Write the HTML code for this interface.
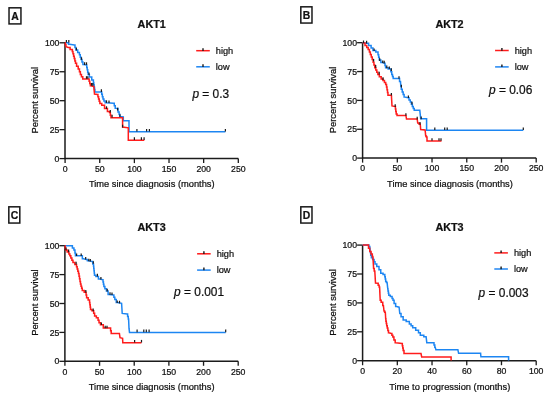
<!DOCTYPE html>
<html><head><meta charset="utf-8"><style>
html,body{margin:0;padding:0;background:#fff;width:550px;height:396px;overflow:hidden}
svg{display:block;will-change:transform}
text{font-family:"Liberation Sans",sans-serif;fill:#121212;stroke:#121212;stroke-width:0.24px}
</style></head><body>
<svg width="550" height="396" viewBox="0 0 550 396">
<defs><filter id="bl" x="0" y="0" width="550" height="396" filterUnits="userSpaceOnUse"><feGaussianBlur stdDeviation="0.35"/></filter></defs>
<rect width="550" height="396" fill="#fff"/>
<g filter="url(#bl)">
<rect x="9.02" y="7.82" width="11.93" height="16.1" fill="none" stroke="#1a1a1a" stroke-width="1.5"/>
<text x="15.08" y="19.57" font-size="10.4" font-weight="bold" text-anchor="middle">A</text>
<text x="151.7" y="28.3" font-size="10.8" font-weight="bold" text-anchor="middle">AKT1</text>
<path d="M65,42.8 L65,158.6 L238.3,158.6" fill="none" stroke="#1a1a1a" stroke-width="1.5"/>
<line x1="59.5" y1="158.6" x2="65" y2="158.6" stroke="#1a1a1a" stroke-width="1.3"/>
<text x="59.4" y="161.7" font-size="8.7" text-anchor="end">0</text>
<line x1="59.5" y1="129.65" x2="65" y2="129.65" stroke="#1a1a1a" stroke-width="1.3"/>
<text x="59.4" y="132.75" font-size="8.7" text-anchor="end">25</text>
<line x1="59.5" y1="100.7" x2="65" y2="100.7" stroke="#1a1a1a" stroke-width="1.3"/>
<text x="59.4" y="103.8" font-size="8.7" text-anchor="end">50</text>
<line x1="59.5" y1="71.75" x2="65" y2="71.75" stroke="#1a1a1a" stroke-width="1.3"/>
<text x="59.4" y="74.85" font-size="8.7" text-anchor="end">75</text>
<line x1="59.5" y1="42.8" x2="65" y2="42.8" stroke="#1a1a1a" stroke-width="1.3"/>
<text x="59.4" y="45.9" font-size="8.7" text-anchor="end">100</text>
<line x1="65.1" y1="158.6" x2="65.1" y2="163.1" stroke="#1a1a1a" stroke-width="1.3"/>
<text x="65.1" y="171.9" font-size="8.7" text-anchor="middle">0</text>
<line x1="99.74" y1="158.6" x2="99.74" y2="163.1" stroke="#1a1a1a" stroke-width="1.3"/>
<text x="99.74" y="171.9" font-size="8.7" text-anchor="middle">50</text>
<line x1="134.38" y1="158.6" x2="134.38" y2="163.1" stroke="#1a1a1a" stroke-width="1.3"/>
<text x="134.38" y="171.9" font-size="8.7" text-anchor="middle">100</text>
<line x1="169.02" y1="158.6" x2="169.02" y2="163.1" stroke="#1a1a1a" stroke-width="1.3"/>
<text x="169.02" y="171.9" font-size="8.7" text-anchor="middle">150</text>
<line x1="203.66" y1="158.6" x2="203.66" y2="163.1" stroke="#1a1a1a" stroke-width="1.3"/>
<text x="203.66" y="171.9" font-size="8.7" text-anchor="middle">200</text>
<line x1="238.3" y1="158.6" x2="238.3" y2="163.1" stroke="#1a1a1a" stroke-width="1.3"/>
<text x="238.3" y="171.9" font-size="8.7" text-anchor="middle">250</text>
<text x="151.75" y="187.1" font-size="9.3" text-anchor="middle">Time since diagnosis (months)</text>
<text transform="translate(38.1,100.2) rotate(-90)" x="0" y="0" font-size="9.35" text-anchor="middle">Percent survival</text>
<path d="M65.00,42.80 L67.60,42.80 L68.55,42.80 L68.55,44.30 L69.50,44.30 L74.50,45.00 L74.97,45.00 L74.97,47.50 L75.93,47.50 L75.93,50.00 L76.40,50.00 L77.70,50.00 L77.70,52.50 L79.00,52.50 L79.42,52.50 L79.42,54.83 L80.25,54.83 L80.25,57.17 L81.08,57.17 L81.08,59.50 L81.50,59.50 L81.97,59.50 L81.97,62.00 L82.93,62.00 L82.93,64.50 L83.40,64.50 L86.50,65.10 L86.74,65.10 L86.74,67.47 L87.21,67.47 L87.21,69.85 L87.69,69.85 L87.69,72.22 L88.16,72.22 L88.16,74.60 L88.40,74.60 L89.35,74.60 L89.35,77.00 L90.30,77.00 L91.75,77.00 L91.75,80.00 L93.20,80.00 L93.39,80.00 L93.39,82.40 L93.77,82.40 L93.77,84.80 L94.15,84.80 L94.15,87.20 L94.53,87.20 L94.53,89.60 L94.91,89.60 L94.91,92.00 L95.10,92.00 L101.40,92.00 L101.72,92.00 L101.72,94.33 L102.35,94.33 L102.35,96.67 L102.98,96.67 L102.98,99.00 L103.30,99.00 L103.92,99.00 L103.92,100.90 L105.17,100.90 L105.17,102.80 L105.80,102.80 L113.80,103.20 L114.28,103.20 L114.28,105.70 L115.22,105.70 L115.22,108.20 L115.70,108.20 L117.20,108.50 L118.00,108.50 L118.00,112.00 L118.80,112.00 L119.10,112.00 L119.10,114.20 L119.70,114.20 L119.70,116.40 L120.00,116.40 L123.30,117.00 L123.30,120.80 L129.00,120.80 L129.00,131.80 L225.40,131.80" fill="none" stroke="#1f86f2" stroke-width="1.5" stroke-linejoin="miter"/>
<path d="M65.00,42.80 L65.33,42.80 L65.33,44.80 L65.97,44.80 L65.97,46.80 L66.30,46.80 L68.20,47.50 L70.10,47.50 L70.10,49.40 L72.00,49.40 L72.33,49.40 L72.33,51.60 L72.97,51.60 L72.97,53.80 L73.30,53.80 L73.61,53.80 L73.61,56.17 L74.24,56.17 L74.24,58.55 L74.86,58.55 L74.86,60.92 L75.49,60.92 L75.49,63.30 L75.80,63.30 L76.60,63.30 L76.60,66.15 L78.20,66.15 L78.20,69.00 L79.00,69.00 L79.45,69.00 L79.45,71.80 L80.35,71.80 L80.35,74.60 L80.80,74.60 L81.45,74.60 L81.45,76.80 L82.75,76.80 L82.75,79.00 L83.40,79.00 L88.80,79.00 L89.12,79.00 L89.12,81.23 L89.75,81.23 L89.75,83.47 L90.38,83.47 L90.38,85.70 L90.70,85.70 L93.80,86.40 L94.50,94.00 L97.60,94.60 L97.92,94.60 L97.92,96.80 L98.58,96.80 L98.58,99.00 L99.22,99.00 L99.22,101.20 L99.88,101.20 L99.88,103.40 L100.20,103.40 L101.75,103.40 L101.75,105.30 L103.30,105.30 L104.55,105.30 L104.55,108.50 L105.80,108.50 L107.40,108.50 L107.40,111.60 L109.00,111.60 L109.50,111.60 L109.50,112.60 L110.00,112.60 L110.33,112.60 L110.33,115.15 L110.97,115.15 L110.97,117.70 L111.30,117.70 L122.60,117.70 L122.60,127.10 L128.30,127.80 L128.30,140.20 L144.30,140.20" fill="none" stroke="#ff1a1a" stroke-width="1.5" stroke-linejoin="miter"/>
<line x1="134.4" y1="137.3" x2="134.4" y2="139.9" stroke="#1a1a1a" stroke-width="1.2"/>
<line x1="141.4" y1="137.3" x2="141.4" y2="139.9" stroke="#1a1a1a" stroke-width="1.2"/>
<line x1="144.1" y1="137.3" x2="144.1" y2="139.9" stroke="#1a1a1a" stroke-width="1.2"/>
<line x1="86.5" y1="76.2" x2="86.5" y2="78.8" stroke="#1a1a1a" stroke-width="1.2"/>
<line x1="87.8" y1="76.2" x2="87.8" y2="78.8" stroke="#1a1a1a" stroke-width="1.2"/>
<line x1="91.6" y1="83.1" x2="91.6" y2="85.7" stroke="#1a1a1a" stroke-width="1.2"/>
<line x1="92.8" y1="83.1" x2="92.8" y2="85.7" stroke="#1a1a1a" stroke-width="1.2"/>
<line x1="106.5" y1="106.3" x2="106.5" y2="108.9" stroke="#1a1a1a" stroke-width="1.2"/>
<line x1="110.3" y1="110" x2="110.3" y2="112.6" stroke="#1a1a1a" stroke-width="1.2"/>
<line x1="112.1" y1="114.8" x2="112.1" y2="117.4" stroke="#1a1a1a" stroke-width="1.2"/>
<line x1="122.6" y1="124.8" x2="122.6" y2="127.4" stroke="#1a1a1a" stroke-width="1.2"/>
<line x1="136.9" y1="129" x2="136.9" y2="131.6" stroke="#1a1a1a" stroke-width="1.2"/>
<line x1="146.6" y1="129" x2="146.6" y2="131.6" stroke="#1a1a1a" stroke-width="1.2"/>
<line x1="149.4" y1="129" x2="149.4" y2="131.6" stroke="#1a1a1a" stroke-width="1.2"/>
<line x1="225.4" y1="129" x2="225.4" y2="131.6" stroke="#1a1a1a" stroke-width="1.2"/>
<line x1="66.4" y1="40" x2="66.4" y2="42.6" stroke="#1a1a1a" stroke-width="1.2"/>
<line x1="68.8" y1="40" x2="68.8" y2="42.6" stroke="#1a1a1a" stroke-width="1.2"/>
<line x1="76.4" y1="47.8" x2="76.4" y2="50.4" stroke="#1a1a1a" stroke-width="1.2"/>
<line x1="81.5" y1="57.3" x2="81.5" y2="59.9" stroke="#1a1a1a" stroke-width="1.2"/>
<line x1="84.6" y1="62.3" x2="84.6" y2="64.9" stroke="#1a1a1a" stroke-width="1.2"/>
<line x1="86.5" y1="62.3" x2="86.5" y2="64.9" stroke="#1a1a1a" stroke-width="1.2"/>
<line x1="89" y1="72.4" x2="89" y2="75" stroke="#1a1a1a" stroke-width="1.2"/>
<line x1="101.4" y1="89.3" x2="101.4" y2="91.9" stroke="#1a1a1a" stroke-width="1.2"/>
<line x1="106.5" y1="100.3" x2="106.5" y2="102.9" stroke="#1a1a1a" stroke-width="1.2"/>
<line x1="109" y1="100.5" x2="109" y2="103.1" stroke="#1a1a1a" stroke-width="1.2"/>
<line x1="117.6" y1="107.8" x2="117.6" y2="110.4" stroke="#1a1a1a" stroke-width="1.2"/>
<line x1="120" y1="114.2" x2="120" y2="116.8" stroke="#1a1a1a" stroke-width="1.2"/>
<line x1="196.2" y1="50.7" x2="209.8" y2="50.7" stroke="#ff1a1a" stroke-width="1.5"/>
<line x1="203" y1="48.2" x2="203" y2="50.9" stroke="#1a1a1a" stroke-width="1.4"/>
<text x="215.8" y="53.9" font-size="9.2">high</text>
<line x1="196.2" y1="66.8" x2="209.8" y2="66.8" stroke="#1f86f2" stroke-width="1.5"/>
<line x1="203" y1="64.3" x2="203" y2="67" stroke="#1a1a1a" stroke-width="1.4"/>
<text x="215.8" y="70" font-size="9.2">low</text>
<text x="192.4" y="97.9" font-size="11.9"><tspan font-style="italic">p</tspan> = 0.3</text>
<rect x="300.82" y="6.82" width="11.17" height="16.23" fill="none" stroke="#1a1a1a" stroke-width="1.5"/>
<text x="306.5" y="18.7" font-size="10.4" font-weight="bold" text-anchor="middle">B</text>
<text x="449.5" y="28.3" font-size="10.8" font-weight="bold" text-anchor="middle">AKT2</text>
<path d="M362.6,42.7 L362.6,158.1 L536.2,158.1" fill="none" stroke="#1a1a1a" stroke-width="1.5"/>
<line x1="357.1" y1="158.1" x2="362.6" y2="158.1" stroke="#1a1a1a" stroke-width="1.3"/>
<text x="357" y="161.2" font-size="8.7" text-anchor="end">0</text>
<line x1="357.1" y1="129.25" x2="362.6" y2="129.25" stroke="#1a1a1a" stroke-width="1.3"/>
<text x="357" y="132.35" font-size="8.7" text-anchor="end">25</text>
<line x1="357.1" y1="100.4" x2="362.6" y2="100.4" stroke="#1a1a1a" stroke-width="1.3"/>
<text x="357" y="103.5" font-size="8.7" text-anchor="end">50</text>
<line x1="357.1" y1="71.55" x2="362.6" y2="71.55" stroke="#1a1a1a" stroke-width="1.3"/>
<text x="357" y="74.65" font-size="8.7" text-anchor="end">75</text>
<line x1="357.1" y1="42.7" x2="362.6" y2="42.7" stroke="#1a1a1a" stroke-width="1.3"/>
<text x="357" y="45.8" font-size="8.7" text-anchor="end">100</text>
<line x1="362.6" y1="158.1" x2="362.6" y2="162.6" stroke="#1a1a1a" stroke-width="1.3"/>
<text x="362.6" y="171.4" font-size="8.7" text-anchor="middle">0</text>
<line x1="397.32" y1="158.1" x2="397.32" y2="162.6" stroke="#1a1a1a" stroke-width="1.3"/>
<text x="397.32" y="171.4" font-size="8.7" text-anchor="middle">50</text>
<line x1="432.04" y1="158.1" x2="432.04" y2="162.6" stroke="#1a1a1a" stroke-width="1.3"/>
<text x="432.04" y="171.4" font-size="8.7" text-anchor="middle">100</text>
<line x1="466.76" y1="158.1" x2="466.76" y2="162.6" stroke="#1a1a1a" stroke-width="1.3"/>
<text x="466.76" y="171.4" font-size="8.7" text-anchor="middle">150</text>
<line x1="501.48" y1="158.1" x2="501.48" y2="162.6" stroke="#1a1a1a" stroke-width="1.3"/>
<text x="501.48" y="171.4" font-size="8.7" text-anchor="middle">200</text>
<line x1="536.2" y1="158.1" x2="536.2" y2="162.6" stroke="#1a1a1a" stroke-width="1.3"/>
<text x="536.2" y="171.4" font-size="8.7" text-anchor="middle">250</text>
<text x="449.95" y="186.7" font-size="9.3" text-anchor="middle">Time since diagnosis (months)</text>
<text transform="translate(336,100) rotate(-90)" x="0" y="0" font-size="9.35" text-anchor="middle">Percent survival</text>
<path d="M362.60,42.70 L367.00,43.30 L368.60,43.30 L368.60,45.60 L370.20,45.60 L371.12,45.60 L371.12,48.10 L372.97,48.10 L372.97,50.60 L373.90,50.60 L375.80,50.60 L375.80,51.90 L377.70,51.90 L378.02,51.90 L378.02,54.63 L378.65,54.63 L378.65,57.37 L379.28,57.37 L379.28,60.10 L379.60,60.10 L380.85,60.10 L380.85,62.60 L382.10,62.60 L384.70,63.30 L385.00,63.30 L385.00,65.50 L385.60,65.50 L385.60,67.70 L385.90,67.70 L388.15,67.70 L388.15,68.90 L390.40,68.90 L390.85,68.90 L390.85,71.75 L391.75,71.75 L391.75,74.60 L392.20,74.60 L392.52,74.60 L392.52,76.50 L393.18,76.50 L393.18,78.40 L393.50,78.40 L398.60,78.40 L399.55,78.40 L399.55,81.60 L400.50,81.60 L400.80,86.30 L401.27,86.30 L401.27,89.15 L402.23,89.15 L402.23,92.00 L402.70,92.00 L403.18,92.00 L403.18,94.50 L404.12,94.50 L404.12,97.00 L404.60,97.00 L408.40,97.70 L409.02,97.70 L409.02,99.90 L410.27,99.90 L410.27,102.10 L410.90,102.10 L411.38,102.10 L411.38,104.30 L412.32,104.30 L412.32,106.50 L412.80,106.50 L413.27,106.50 L413.27,108.40 L414.23,108.40 L414.23,110.30 L414.70,110.30 L419.80,110.30 L420.70,118.80 L426.60,118.80 L426.60,130.20 L523.30,130.20" fill="none" stroke="#1f86f2" stroke-width="1.5" stroke-linejoin="miter"/>
<path d="M362.60,42.70 L364.00,43.00 L365.00,43.00 L365.00,45.50 L366.00,45.50 L366.73,45.50 L366.73,47.45 L368.17,47.45 L368.17,49.40 L368.90,49.40 L369.38,49.40 L369.38,51.92 L370.32,51.92 L370.32,54.45 L371.27,54.45 L371.27,56.98 L372.22,56.98 L372.22,59.50 L372.70,59.50 L373.12,59.50 L373.12,62.23 L373.95,62.23 L373.95,64.97 L374.78,64.97 L374.78,67.70 L375.20,67.70 L375.73,67.70 L375.73,70.00 L376.80,70.00 L376.80,72.30 L377.87,72.30 L377.87,74.60 L378.40,74.60 L379.32,74.60 L379.32,76.80 L381.18,76.80 L381.18,79.00 L382.10,79.00 L382.95,79.00 L382.95,80.60 L383.80,80.60 L384.43,80.60 L384.43,82.50 L385.68,82.50 L385.68,84.40 L386.30,84.40 L386.54,84.40 L386.54,87.10 L387.01,87.10 L387.01,89.80 L387.49,89.80 L387.49,92.50 L387.96,92.50 L387.96,95.20 L388.20,95.20 L391.40,95.20 L392.00,105.90 L395.20,106.50 L395.40,106.50 L395.40,109.03 L395.80,109.03 L395.80,111.57 L396.20,111.57 L396.20,114.10 L396.40,114.10 L397.05,114.10 L397.05,115.40 L397.70,115.40 L405.90,115.40 L406.50,119.00 L417.20,119.00 L417.70,123.00 L418.95,123.00 L418.95,124.00 L420.20,124.00 L420.70,129.60 L425.10,130.00 L425.70,135.90 L426.35,135.90 L426.35,137.10 L427.00,137.10 L427.00,141.00 L441.50,141.00" fill="none" stroke="#ff1a1a" stroke-width="1.5" stroke-linejoin="miter"/>
<line x1="432" y1="138.2" x2="432" y2="140.8" stroke="#1a1a1a" stroke-width="1.2"/>
<line x1="439" y1="138.2" x2="439" y2="140.8" stroke="#1a1a1a" stroke-width="1.2"/>
<line x1="441" y1="138.2" x2="441" y2="140.8" stroke="#1a1a1a" stroke-width="1.2"/>
<line x1="363.5" y1="40.5" x2="363.5" y2="43.1" stroke="#1a1a1a" stroke-width="1.2"/>
<line x1="373.6" y1="59" x2="373.6" y2="61.6" stroke="#1a1a1a" stroke-width="1.2"/>
<line x1="375.7" y1="65.1" x2="375.7" y2="67.7" stroke="#1a1a1a" stroke-width="1.2"/>
<line x1="379.2" y1="71.8" x2="379.2" y2="74.4" stroke="#1a1a1a" stroke-width="1.2"/>
<line x1="383" y1="77.3" x2="383" y2="79.9" stroke="#1a1a1a" stroke-width="1.2"/>
<line x1="391.4" y1="93" x2="391.4" y2="95.6" stroke="#1a1a1a" stroke-width="1.2"/>
<line x1="395.2" y1="104.3" x2="395.2" y2="106.9" stroke="#1a1a1a" stroke-width="1.2"/>
<line x1="405.9" y1="113.2" x2="405.9" y2="115.8" stroke="#1a1a1a" stroke-width="1.2"/>
<line x1="417.2" y1="116.8" x2="417.2" y2="119.4" stroke="#1a1a1a" stroke-width="1.2"/>
<line x1="420" y1="122.1" x2="420" y2="124.7" stroke="#1a1a1a" stroke-width="1.2"/>
<line x1="434.8" y1="127.4" x2="434.8" y2="130" stroke="#1a1a1a" stroke-width="1.2"/>
<line x1="444.7" y1="127.4" x2="444.7" y2="130" stroke="#1a1a1a" stroke-width="1.2"/>
<line x1="447.2" y1="127.4" x2="447.2" y2="130" stroke="#1a1a1a" stroke-width="1.2"/>
<line x1="523.3" y1="127.4" x2="523.3" y2="130" stroke="#1a1a1a" stroke-width="1.2"/>
<line x1="366.6" y1="40.8" x2="366.6" y2="43.4" stroke="#1a1a1a" stroke-width="1.2"/>
<line x1="374.1" y1="48.4" x2="374.1" y2="51" stroke="#1a1a1a" stroke-width="1.2"/>
<line x1="379.7" y1="58.3" x2="379.7" y2="60.9" stroke="#1a1a1a" stroke-width="1.2"/>
<line x1="382.7" y1="60.4" x2="382.7" y2="63" stroke="#1a1a1a" stroke-width="1.2"/>
<line x1="384.2" y1="60.8" x2="384.2" y2="63.4" stroke="#1a1a1a" stroke-width="1.2"/>
<line x1="386.8" y1="65.6" x2="386.8" y2="68.2" stroke="#1a1a1a" stroke-width="1.2"/>
<line x1="389.3" y1="66.4" x2="389.3" y2="69" stroke="#1a1a1a" stroke-width="1.2"/>
<line x1="391.3" y1="68.3" x2="391.3" y2="70.9" stroke="#1a1a1a" stroke-width="1.2"/>
<line x1="399" y1="76.2" x2="399" y2="78.8" stroke="#1a1a1a" stroke-width="1.2"/>
<line x1="401.4" y1="84.8" x2="401.4" y2="87.4" stroke="#1a1a1a" stroke-width="1.2"/>
<line x1="408.4" y1="95.5" x2="408.4" y2="98.1" stroke="#1a1a1a" stroke-width="1.2"/>
<line x1="412" y1="101.8" x2="412" y2="104.4" stroke="#1a1a1a" stroke-width="1.2"/>
<line x1="421.2" y1="116.6" x2="421.2" y2="119.2" stroke="#1a1a1a" stroke-width="1.2"/>
<line x1="495.1" y1="50.5" x2="508.7" y2="50.5" stroke="#ff1a1a" stroke-width="1.5"/>
<line x1="501.9" y1="48" x2="501.9" y2="50.7" stroke="#1a1a1a" stroke-width="1.4"/>
<text x="514.7" y="53.7" font-size="9.2">high</text>
<line x1="495.1" y1="66.9" x2="508.7" y2="66.9" stroke="#1f86f2" stroke-width="1.5"/>
<line x1="501.9" y1="64.4" x2="501.9" y2="67.1" stroke="#1a1a1a" stroke-width="1.4"/>
<text x="514.7" y="70.1" font-size="9.2">low</text>
<text x="489" y="93.6" font-size="11.9"><tspan font-style="italic">p</tspan> = 0.06</text>
<rect x="8.82" y="206.82" width="10.98" height="16.23" fill="none" stroke="#1a1a1a" stroke-width="1.5"/>
<text x="14.41" y="218.7" font-size="10.4" font-weight="bold" text-anchor="middle">C</text>
<text x="151.6" y="231" font-size="10.8" font-weight="bold" text-anchor="middle">AKT3</text>
<path d="M64.9,245.7 L64.9,361.3 L238.2,361.3" fill="none" stroke="#1a1a1a" stroke-width="1.5"/>
<line x1="59.4" y1="361.3" x2="64.9" y2="361.3" stroke="#1a1a1a" stroke-width="1.3"/>
<text x="59.3" y="364.4" font-size="8.7" text-anchor="end">0</text>
<line x1="59.4" y1="332.4" x2="64.9" y2="332.4" stroke="#1a1a1a" stroke-width="1.3"/>
<text x="59.3" y="335.5" font-size="8.7" text-anchor="end">25</text>
<line x1="59.4" y1="303.5" x2="64.9" y2="303.5" stroke="#1a1a1a" stroke-width="1.3"/>
<text x="59.3" y="306.6" font-size="8.7" text-anchor="end">50</text>
<line x1="59.4" y1="274.6" x2="64.9" y2="274.6" stroke="#1a1a1a" stroke-width="1.3"/>
<text x="59.3" y="277.7" font-size="8.7" text-anchor="end">75</text>
<line x1="59.4" y1="245.7" x2="64.9" y2="245.7" stroke="#1a1a1a" stroke-width="1.3"/>
<text x="59.3" y="248.8" font-size="8.7" text-anchor="end">100</text>
<line x1="64.9" y1="361.3" x2="64.9" y2="365.8" stroke="#1a1a1a" stroke-width="1.3"/>
<text x="64.9" y="374.6" font-size="8.7" text-anchor="middle">0</text>
<line x1="99.56" y1="361.3" x2="99.56" y2="365.8" stroke="#1a1a1a" stroke-width="1.3"/>
<text x="99.56" y="374.6" font-size="8.7" text-anchor="middle">50</text>
<line x1="134.22" y1="361.3" x2="134.22" y2="365.8" stroke="#1a1a1a" stroke-width="1.3"/>
<text x="134.22" y="374.6" font-size="8.7" text-anchor="middle">100</text>
<line x1="168.88" y1="361.3" x2="168.88" y2="365.8" stroke="#1a1a1a" stroke-width="1.3"/>
<text x="168.88" y="374.6" font-size="8.7" text-anchor="middle">150</text>
<line x1="203.54" y1="361.3" x2="203.54" y2="365.8" stroke="#1a1a1a" stroke-width="1.3"/>
<text x="203.54" y="374.6" font-size="8.7" text-anchor="middle">200</text>
<line x1="238.2" y1="361.3" x2="238.2" y2="365.8" stroke="#1a1a1a" stroke-width="1.3"/>
<text x="238.2" y="374.6" font-size="8.7" text-anchor="middle">250</text>
<text x="151.65" y="390.3" font-size="9.3" text-anchor="middle">Time since diagnosis (months)</text>
<text transform="translate(37.7,302.6) rotate(-90)" x="0" y="0" font-size="9.35" text-anchor="middle">Percent survival</text>
<path d="M64.90,245.70 L71.60,245.70 L72.38,245.70 L72.38,247.90 L73.92,247.90 L73.92,250.10 L74.70,250.10 L74.95,250.10 L74.95,252.90 L75.45,252.90 L75.45,255.70 L75.70,255.70 L81.40,255.70 L82.35,255.70 L82.35,258.80 L83.30,258.80 L86.40,259.50 L87.35,259.50 L87.35,260.70 L88.30,260.70 L92.10,261.40 L92.75,261.40 L92.75,263.90 L93.40,263.90 L93.52,263.90 L93.52,266.18 L93.76,266.18 L93.76,268.46 L94.00,268.46 L94.00,270.74 L94.24,270.74 L94.24,273.02 L94.48,273.02 L94.48,275.30 L94.60,275.30 L95.85,275.30 L95.85,276.50 L97.10,276.50 L98.40,276.50 L98.40,279.00 L99.70,279.00 L102.80,279.70 L103.02,279.70 L103.02,282.00 L103.45,282.00 L103.45,284.30 L103.88,284.30 L103.88,286.60 L104.10,286.60 L104.88,286.60 L104.88,288.80 L106.42,288.80 L106.42,291.00 L107.20,291.00 L108.10,291.00 L108.10,294.40 L109.00,294.40 L113.40,295.00 L113.88,295.00 L113.88,297.25 L114.83,297.25 L114.83,299.50 L115.30,299.50 L116.25,299.50 L116.25,302.60 L117.20,302.60 L121.60,303.30 L122.20,313.40 L127.30,314.00 L127.62,314.00 L127.62,316.50 L128.28,316.50 L128.28,319.00 L128.60,319.00 L129.00,328.20 L129.50,332.40 L225.70,332.40" fill="none" stroke="#1f86f2" stroke-width="1.5" stroke-linejoin="miter"/>
<path d="M64.90,245.70 L65.15,245.70 L65.15,247.90 L65.65,247.90 L65.65,250.10 L65.90,250.10 L67.15,250.10 L67.15,252.00 L68.40,252.00 L68.88,252.00 L68.88,253.90 L69.83,253.90 L69.83,255.80 L70.30,255.80 L70.83,255.80 L70.83,258.03 L71.90,258.03 L71.90,260.27 L72.97,260.27 L72.97,262.50 L73.50,262.50 L74.85,262.50 L74.85,264.50 L76.20,264.50 L76.53,264.50 L76.53,266.75 L77.17,266.75 L77.17,269.00 L77.83,269.00 L77.83,271.25 L78.47,271.25 L78.47,273.50 L78.80,273.50 L79.04,273.50 L79.04,276.15 L79.51,276.15 L79.51,278.80 L79.99,278.80 L79.99,281.45 L80.46,281.45 L80.46,284.10 L80.70,284.10 L81.02,284.10 L81.02,286.20 L81.65,286.20 L81.65,288.30 L82.28,288.30 L82.28,290.40 L82.60,290.40 L84.20,290.40 L84.20,292.30 L85.80,292.30 L86.08,292.30 L86.08,295.05 L86.62,295.05 L86.62,297.80 L86.90,297.80 L88.15,297.80 L88.15,300.10 L89.40,300.10 L89.56,300.10 L89.56,302.48 L89.89,302.48 L89.89,304.85 L90.21,304.85 L90.21,307.23 L90.54,307.23 L90.54,309.60 L90.70,309.60 L91.95,309.60 L91.95,310.80 L93.20,310.80 L93.67,310.80 L93.67,313.35 L94.62,313.35 L94.62,315.90 L95.10,315.90 L96.35,315.90 L96.35,317.80 L97.60,317.80 L98.07,317.80 L98.07,320.30 L99.03,320.30 L99.03,322.80 L99.50,322.80 L100.45,322.80 L100.45,324.70 L101.40,324.70 L103.30,324.70 L103.30,327.90 L105.20,327.90 L110.30,327.90 L110.60,327.90 L110.60,330.65 L111.20,330.65 L111.20,333.40 L111.50,333.40 L119.40,333.40 L120.00,337.70 L122.60,338.30 L122.80,342.70 L141.50,342.70" fill="none" stroke="#ff1a1a" stroke-width="1.5" stroke-linejoin="miter"/>
<line x1="134.6" y1="339.9" x2="134.6" y2="342.5" stroke="#1a1a1a" stroke-width="1.2"/>
<line x1="141.5" y1="339.9" x2="141.5" y2="342.5" stroke="#1a1a1a" stroke-width="1.2"/>
<line x1="66" y1="247.6" x2="66" y2="250.2" stroke="#1a1a1a" stroke-width="1.2"/>
<line x1="68.6" y1="249.6" x2="68.6" y2="252.2" stroke="#1a1a1a" stroke-width="1.2"/>
<line x1="76.1" y1="261.8" x2="76.1" y2="264.4" stroke="#1a1a1a" stroke-width="1.2"/>
<line x1="85.8" y1="290.1" x2="85.8" y2="292.7" stroke="#1a1a1a" stroke-width="1.2"/>
<line x1="93.2" y1="308.6" x2="93.2" y2="311.2" stroke="#1a1a1a" stroke-width="1.2"/>
<line x1="101.4" y1="322.5" x2="101.4" y2="325.1" stroke="#1a1a1a" stroke-width="1.2"/>
<line x1="105.2" y1="325.7" x2="105.2" y2="328.3" stroke="#1a1a1a" stroke-width="1.2"/>
<line x1="107" y1="325.7" x2="107" y2="328.3" stroke="#1a1a1a" stroke-width="1.2"/>
<line x1="137.1" y1="329.6" x2="137.1" y2="332.2" stroke="#1a1a1a" stroke-width="1.2"/>
<line x1="143.8" y1="329.6" x2="143.8" y2="332.2" stroke="#1a1a1a" stroke-width="1.2"/>
<line x1="146.3" y1="329.6" x2="146.3" y2="332.2" stroke="#1a1a1a" stroke-width="1.2"/>
<line x1="149.1" y1="329.6" x2="149.1" y2="332.2" stroke="#1a1a1a" stroke-width="1.2"/>
<line x1="225.7" y1="329.6" x2="225.7" y2="332.2" stroke="#1a1a1a" stroke-width="1.2"/>
<line x1="76.6" y1="253.5" x2="76.6" y2="256.1" stroke="#1a1a1a" stroke-width="1.2"/>
<line x1="81.2" y1="253.5" x2="81.2" y2="256.1" stroke="#1a1a1a" stroke-width="1.2"/>
<line x1="85.7" y1="257" x2="85.7" y2="259.6" stroke="#1a1a1a" stroke-width="1.2"/>
<line x1="88.8" y1="258.7" x2="88.8" y2="261.3" stroke="#1a1a1a" stroke-width="1.2"/>
<line x1="90.3" y1="259" x2="90.3" y2="261.6" stroke="#1a1a1a" stroke-width="1.2"/>
<line x1="93.3" y1="261.2" x2="93.3" y2="263.8" stroke="#1a1a1a" stroke-width="1.2"/>
<line x1="97.4" y1="273.8" x2="97.4" y2="276.4" stroke="#1a1a1a" stroke-width="1.2"/>
<line x1="100.9" y1="277" x2="100.9" y2="279.6" stroke="#1a1a1a" stroke-width="1.2"/>
<line x1="107.2" y1="288.8" x2="107.2" y2="291.4" stroke="#1a1a1a" stroke-width="1.2"/>
<line x1="110" y1="292.2" x2="110" y2="294.8" stroke="#1a1a1a" stroke-width="1.2"/>
<line x1="112" y1="292.4" x2="112" y2="295" stroke="#1a1a1a" stroke-width="1.2"/>
<line x1="117.2" y1="300.4" x2="117.2" y2="303" stroke="#1a1a1a" stroke-width="1.2"/>
<line x1="119.5" y1="300.8" x2="119.5" y2="303.4" stroke="#1a1a1a" stroke-width="1.2"/>
<line x1="197.1" y1="253.8" x2="210.7" y2="253.8" stroke="#ff1a1a" stroke-width="1.5"/>
<line x1="203.9" y1="251.3" x2="203.9" y2="254" stroke="#1a1a1a" stroke-width="1.4"/>
<text x="216.7" y="257" font-size="9.2">high</text>
<line x1="197.1" y1="270.1" x2="210.7" y2="270.1" stroke="#1f86f2" stroke-width="1.5"/>
<line x1="203.9" y1="267.6" x2="203.9" y2="270.3" stroke="#1a1a1a" stroke-width="1.4"/>
<text x="216.7" y="273.3" font-size="9.2">low</text>
<text x="174.1" y="295.7" font-size="11.9"><tspan font-style="italic">p</tspan> = 0.001</text>
<rect x="300.82" y="206.82" width="11.17" height="16.23" fill="none" stroke="#1a1a1a" stroke-width="1.5"/>
<text x="306.5" y="218.7" font-size="10.4" font-weight="bold" text-anchor="middle">D</text>
<text x="449.5" y="231.4" font-size="10.8" font-weight="bold" text-anchor="middle">AKT3</text>
<path d="M362.6,245.1 L362.6,360.7 L536.2,360.7" fill="none" stroke="#1a1a1a" stroke-width="1.5"/>
<line x1="357.1" y1="360.7" x2="362.6" y2="360.7" stroke="#1a1a1a" stroke-width="1.3"/>
<text x="357" y="363.8" font-size="8.7" text-anchor="end">0</text>
<line x1="357.1" y1="331.8" x2="362.6" y2="331.8" stroke="#1a1a1a" stroke-width="1.3"/>
<text x="357" y="334.9" font-size="8.7" text-anchor="end">25</text>
<line x1="357.1" y1="302.9" x2="362.6" y2="302.9" stroke="#1a1a1a" stroke-width="1.3"/>
<text x="357" y="306" font-size="8.7" text-anchor="end">50</text>
<line x1="357.1" y1="274" x2="362.6" y2="274" stroke="#1a1a1a" stroke-width="1.3"/>
<text x="357" y="277.1" font-size="8.7" text-anchor="end">75</text>
<line x1="357.1" y1="245.1" x2="362.6" y2="245.1" stroke="#1a1a1a" stroke-width="1.3"/>
<text x="357" y="248.2" font-size="8.7" text-anchor="end">100</text>
<line x1="362.6" y1="360.7" x2="362.6" y2="365.2" stroke="#1a1a1a" stroke-width="1.3"/>
<text x="362.6" y="374" font-size="8.7" text-anchor="middle">0</text>
<line x1="397.32" y1="360.7" x2="397.32" y2="365.2" stroke="#1a1a1a" stroke-width="1.3"/>
<text x="397.32" y="374" font-size="8.7" text-anchor="middle">20</text>
<line x1="432.04" y1="360.7" x2="432.04" y2="365.2" stroke="#1a1a1a" stroke-width="1.3"/>
<text x="432.04" y="374" font-size="8.7" text-anchor="middle">40</text>
<line x1="466.76" y1="360.7" x2="466.76" y2="365.2" stroke="#1a1a1a" stroke-width="1.3"/>
<text x="466.76" y="374" font-size="8.7" text-anchor="middle">60</text>
<line x1="501.48" y1="360.7" x2="501.48" y2="365.2" stroke="#1a1a1a" stroke-width="1.3"/>
<text x="501.48" y="374" font-size="8.7" text-anchor="middle">80</text>
<line x1="536.2" y1="360.7" x2="536.2" y2="365.2" stroke="#1a1a1a" stroke-width="1.3"/>
<text x="536.2" y="374" font-size="8.7" text-anchor="middle">100</text>
<text x="449.75" y="389.7" font-size="9.3" text-anchor="middle">Time to progression (months)</text>
<text transform="translate(336,302.4) rotate(-90)" x="0" y="0" font-size="9.35" text-anchor="middle">Percent survival</text>
<path d="M362.60,245.10 L367.90,245.10 L368.85,245.10 L368.85,246.40 L369.80,246.40 L370.40,252.70 L370.72,252.70 L370.72,255.20 L371.38,255.20 L371.38,257.70 L371.70,257.70 L372.65,257.70 L372.65,259.60 L373.60,259.60 L374.08,259.60 L374.08,261.80 L375.02,261.80 L375.02,264.00 L375.50,264.00 L376.75,264.00 L376.75,266.60 L378.00,266.60 L379.00,266.60 L379.00,269.70 L380.00,269.70 L380.75,269.70 L380.75,273.20 L381.50,273.20 L383.05,273.20 L383.05,274.40 L384.60,274.40 L384.82,274.40 L384.82,276.73 L385.25,276.73 L385.25,279.07 L385.68,279.07 L385.68,281.40 L385.90,281.40 L386.50,281.40 L386.50,282.60 L387.10,282.60 L387.80,288.90 L388.00,288.90 L388.00,291.03 L388.40,291.03 L388.40,293.17 L388.80,293.17 L388.80,295.30 L389.00,295.30 L390.30,295.30 L390.30,296.50 L391.60,296.50 L392.08,296.50 L392.08,298.40 L393.02,298.40 L393.02,300.30 L393.50,300.30 L394.10,300.30 L394.10,303.50 L394.70,303.50 L395.65,303.50 L395.65,306.60 L396.60,306.60 L399.10,307.20 L399.80,313.60 L401.05,313.60 L401.05,316.70 L402.30,316.70 L403.15,316.70 L403.15,320.10 L404.00,320.10 L406.20,320.10 L406.20,321.40 L408.40,321.40 L409.35,321.40 L409.35,323.90 L410.30,323.90 L411.10,323.90 L411.10,325.80 L412.70,325.80 L412.70,327.70 L413.50,327.70 L415.70,327.70 L415.70,330.20 L417.90,330.20 L418.50,330.20 L418.50,332.70 L419.10,332.70 L420.30,332.70 L420.30,335.20 L421.50,335.20 L423.80,335.20 L423.80,336.70 L426.10,336.70 L426.80,342.70 L433.60,342.70 L434.00,342.70 L434.00,345.00 L434.80,345.00 L434.80,347.30 L435.20,347.30 L435.90,349.80 L457.90,349.80 L458.60,353.30 L480.60,353.30 L480.90,356.80 L508.60,356.80 L508.60,360.60" fill="none" stroke="#1f86f2" stroke-width="1.5" stroke-linejoin="miter"/>
<path d="M362.60,245.10 L367.90,245.10 L368.50,245.10 L368.50,248.30 L369.10,248.30 L369.75,248.30 L369.75,251.40 L370.40,251.40 L371.05,251.40 L371.05,253.90 L371.70,253.90 L372.30,253.90 L372.30,256.50 L372.90,256.50 L373.60,268.50 L374.20,268.50 L374.20,271.00 L374.80,271.00 L375.50,283.00 L377.70,283.30 L378.18,283.30 L378.18,285.15 L379.12,285.15 L379.12,287.00 L379.60,287.00 L380.20,300.30 L381.15,300.30 L381.15,302.20 L382.10,302.20 L382.75,302.20 L382.75,305.40 L383.40,305.40 L384.00,311.00 L384.65,311.00 L384.65,312.30 L385.30,312.30 L385.70,318.80 L385.90,318.80 L385.90,321.13 L386.30,321.13 L386.30,323.47 L386.70,323.47 L386.70,325.80 L386.90,325.80 L387.22,325.80 L387.22,328.10 L387.85,328.10 L387.85,330.40 L388.48,330.40 L388.48,332.70 L388.80,332.70 L391.40,333.40 L391.88,333.40 L391.88,335.25 L392.82,335.25 L392.82,337.10 L393.30,337.10 L393.93,337.10 L393.93,339.95 L395.18,339.95 L395.18,342.80 L395.80,342.80 L402.10,343.50 L402.32,343.50 L402.32,345.80 L402.75,345.80 L402.75,348.10 L403.18,348.10 L403.18,350.40 L403.40,350.40 L404.00,350.40 L404.00,353.60 L404.60,353.60 L421.00,353.60 L421.70,357.10 L451.10,357.10 L451.10,360.60" fill="none" stroke="#ff1a1a" stroke-width="1.5" stroke-linejoin="miter"/>
<line x1="494.3" y1="252.9" x2="507.9" y2="252.9" stroke="#ff1a1a" stroke-width="1.5"/>
<line x1="501.1" y1="250.4" x2="501.1" y2="253.1" stroke="#1a1a1a" stroke-width="1.4"/>
<text x="513.9" y="256.1" font-size="9.2">high</text>
<line x1="494.3" y1="269" x2="507.9" y2="269" stroke="#1f86f2" stroke-width="1.5"/>
<line x1="501.1" y1="266.5" x2="501.1" y2="269.2" stroke="#1a1a1a" stroke-width="1.4"/>
<text x="513.9" y="272.2" font-size="9.2">low</text>
<text x="478.6" y="297" font-size="11.9"><tspan font-style="italic">p</tspan> = 0.003</text>
</g>
</svg>
</body></html>
